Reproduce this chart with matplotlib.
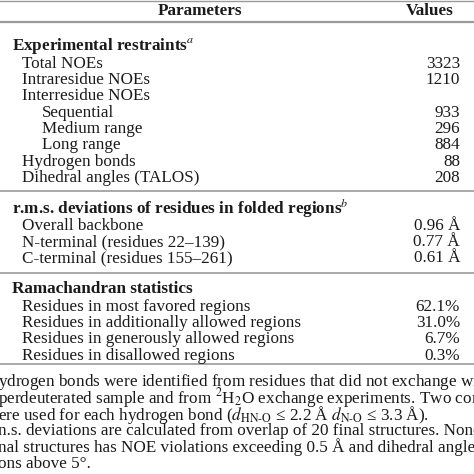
import matplotlib.pyplot as plt
from matplotlib.lines import Line2D

plt.rcParams['font.family'] = ['Liberation Serif', 'DejaVu Serif']
plt.rcParams['mathtext.fontset'] = 'stix'

W = H = 474
# (label, value, indent level, bold)
rows_exp = [
    ('Experimental restraints$^{a}$', '', 0, True),
    ('Total NOEs', '3323', 1, False),
    ('Intraresidue NOEs', '1210', 1, False),
    ('Interresidue NOEs', '', 1, False),
    ('Sequential', '933', 2, False),
    ('Medium range', '296', 2, False),
    ('Long range', '884', 2, False),
    ('Hydrogen bonds', '88', 1, False),
    ('Dihedral angles (TALOS)', '208', 1, False),
]
rows_rms = [
    ('r.m.s. deviations of residues in folded regions$^{b}$', '', 0, True),
    ('Overall backbone', '0.96 Å', 1, False),
    ('N-terminal (residues 22–139)', '0.77 Å', 1, False),
    ('C-terminal (residues 155–261)', '0.61 Å', 1, False),
]
rows_rama = [
    ('Ramachandran statistics', '', 0, True),
    ('Residues in most favored regions', '62.1%', 1, False),
    ('Residues in additionally allowed regions', '31.0%', 1, False),
    ('Residues in generously allowed regions', '6.7%', 1, False),
    ('Residues in disallowed regions', '0.3%', 1, False),
]
footnotes = [
    'ydrogen bonds were identified from residues that did not exchange with $^{1}$H f',
    'perdeuterated sample and from $^{2}$H$_{2}$O exchange experiments. Two constra',
    r'ere used for each hydrogen bond ($d_{\mathrm{HN\text{-}O}}$ ≤ 2.2 Å $d_{\mathrm{N\text{-}O}}$ ≤ 3.3 Å).',
    'n.s. deviations are calculated from overlap of 20 final structures. None of',
    'nal structures has NOE violations exceeding 0.5 Å and dihedral angle vi',
    'ons above 5°.',
]

fig = plt.figure(figsize=(4.74, 4.74), dpi=100)
fig.patch.set_facecolor('white')

def px(x, y):
    return x / W, 1 - y / H

def txt(x, y, s, **kw):
    fig.text(*px(x, y), s, va='center', fontsize=12.3, color='#1a1a1a', **kw)

def rule(y, lw=1.2):
    fig.add_artist(Line2D([0, 1], [1 - y / H] * 2, color='#9a9a9a', lw=lw,
                          transform=fig.transFigure))

rule(1, 1.0)
txt(200, 11, 'Parameters', ha='center', fontweight='bold')
txt(430, 11, 'Values', ha='center', fontweight='bold')
rule(22, 1.6)

indent = {0: 12, 1: 22, 2: 42}

def block(rows, y0, step=16.3):
    y = y0
    for label, val, lev, bold in rows:
        txt(indent[lev], y, label, ha='left', fontweight='bold' if bold else 'normal')
        if val:
            txt(460, y, val, ha='right')
        y += step if not bold else step + 1.5
    return y

block(rows_exp, 46)
rule(191)
block(rows_rms, 208)
rule(273)
block(rows_rama, 289)
rule(364)

for i, s in enumerate(footnotes):
    txt(-2, 382 + i * 16.3, s, ha='left')

fig.savefig('out.png', dpi=100)
